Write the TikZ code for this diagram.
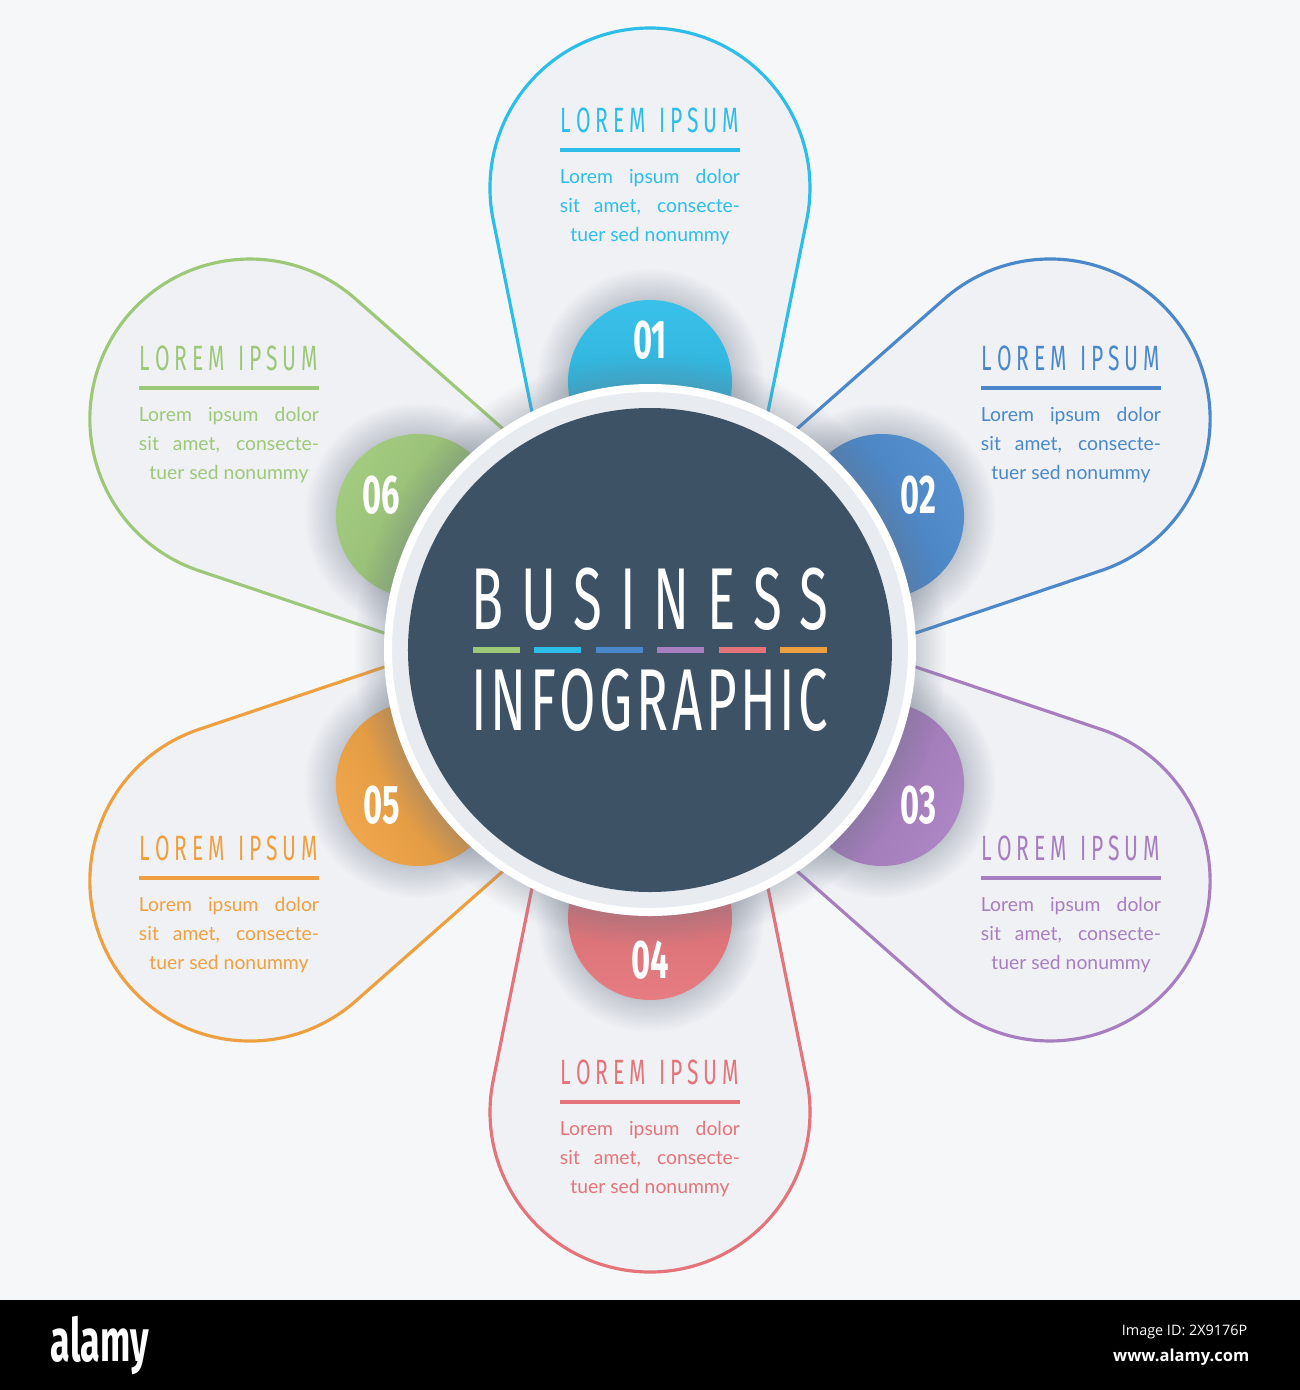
\documentclass[tikz,border=0pt]{standalone}
\usepackage{fontspec}
\setmainfont{Lato}
\newfontfamily\headfont[FakeStretch=0.6]{Fira Sans}
\newfontfamily\barfont{Open Sans}
\usetikzlibrary{fadings,positioning}

\definecolor{paper}{HTML}{F6F7F9}
\definecolor{petalfill}{HTML}{EFF1F5}
\definecolor{ringgray}{HTML}{E8EBF0}
\definecolor{hubdark}{HTML}{3E5266}
\definecolor{shadowgray}{HTML}{6E7888}
\definecolor{cone}{HTML}{2DBDE9}
\definecolor{ctwo}{HTML}{4A88CB}
\definecolor{cthree}{HTML}{A77EC0}
\definecolor{cfour}{HTML}{E5747A}
\definecolor{cfive}{HTML}{EEA040}
\definecolor{csix}{HTML}{9DC878}

% soft halos under the discs and the hub
\pgfdeclareradialshading{discglow}{\pgfpointorigin}{color(0bp)=(white); color(18bp)=(white); color(25bp)=(black); color(50bp)=(black)}
\pgfdeclarefading{discfade}{\pgfuseshading{discglow}}
\pgfdeclareradialshading{hubglow}{\pgfpointorigin}{color(0bp)=(white); color(22.5bp)=(white); color(25bp)=(black); color(50bp)=(black)}
\pgfdeclarefading{hubfade}{\pgfuseshading{hubglow}}

\begin{document}
\begin{tikzpicture}
	\tikzstyle{Petal}	= [line width=0.9pt, fill=petalfill]
	\tikzstyle{Disc}	= [circle, minimum size=1.64cm, inner sep=0pt]
	\tikzstyle{Num}		= [text=white, font=\headfont\bfseries\fontsize{15.5}{15.5}\selectfont, inner sep=0pt]
	\tikzstyle{Title}	= [font=\headfont\fontsize{10}{10}\selectfont, inner sep=0pt]
	\tikzstyle{Body}	= [font=\fontsize{5.5}{8.25}\selectfont, align=center, inner sep=0pt]
	\tikzstyle{Big}		= [text=white, font=\headfont\fontsize{25}{25}\selectfont, inner sep=0pt]

	% page and watermark bar
	\fill[paper] (-6.5,-6.5) rectangle (6.5,6.5);
	\fill[black] (-6.5,-7.4) rectangle (6.5,-6.5);
	\useasboundingbox (-6.5,-7.4) rectangle (6.5,6.5);
	\node[text=white, font=\headfont\bfseries\fontsize{17}{17}\selectfont, inner sep=0pt] (logo) at (-5.5,-6.95) {alamy};
	\node[text=white, font=\barfont\fontsize{4.1}{4.1}\selectfont, anchor=east, inner sep=0pt] (imgid) at (5.98,-6.82) {Image ID: 2X9176P};
	\node[text=white, font=\barfont\bfseries\fontsize{4.7}{4.7}\selectfont, anchor=east, inner sep=0pt] (site) at (6.0,-7.07) {www.alamy.com};

	% petals
	\foreach \ang/\col in {90/cone, 30/ctwo, -30/cthree, -90/cfour, -150/cfive, 150/csix}
		\draw[Petal, draw=\col, rotate=\ang] (0,-0.7) -- (4.304,-1.568) arc[start angle=-101.4, end angle=101.4, radius=1.6] -- (0,0.7) -- cycle;

	% numbered discs
	\foreach \i/\ang/\col in {1/90/cone, 2/30/ctwo, 3/-30/cthree, 4/-90/cfour, 5/-150/cfive, 6/150/csix} {
		\fill[shadowgray, opacity=0.35, path fading=discfade] (\ang:2.68) circle (1.14);
		\node[Disc, top color=\col!94!white, bottom color=\col!88!black, shading angle=\ang-90] (disc\i) at (\ang:2.68) {};
	}

	% hub
	\fill[shadowgray, opacity=0.3, path fading=hubfade] (0,0) circle (2.96);
	\node[circle, minimum size=5.24cm, inner sep=0pt, fill=ringgray, draw=white, line width=0.08cm] (hub) at (0,0) {};
	\node[circle, minimum size=4.84cm, inner sep=0pt, fill=hubdark] (core) at (0,0) {};

	\foreach \i/\ang in {1/90, 2/30, 3/-30, 4/-90, 5/-150, 6/150}
		\node[Num] (num\i) at (\ang:3.10) {0\i};

	% centre title
	\node[Big] (business) at (0,0.51) {\makebox[3.57cm]{B\hfill U\hfill S\hfill I\hfill N\hfill E\hfill S\hfill S}};
	\node[Big] (infographic) at (0,-0.50) {\makebox[3.57cm]{I\hfill N\hfill F\hfill O\hfill G\hfill R\hfill A\hfill P\hfill H\hfill I\hfill C}};
	\foreach \x/\col in {-1.535/csix, -0.921/cone, -0.307/ctwo, 0.307/cthree, 0.921/cfour, 1.535/cfive}
		\fill[\col] (\x-0.235,-0.03) rectangle (\x+0.235,0.03);

	% petal texts
	\foreach \i/\x/\y/\col in {1/0/5.30/cone, 2/4.21/2.92/ctwo, 3/4.21/-1.98/cthree, 4/0/-4.22/cfour, 5/-4.21/-1.98/cfive, 6/-4.21/2.92/csix} {
		\node[Title, text=\col] (title\i) at (\x,\y) {\makebox[1.78cm]{L\hfill O\hfill R\hfill E\hfill M\hfill\hfill\hfill I\hfill P\hfill S\hfill U\hfill M}};
		\draw[\col, line width=1.1pt] (\x-0.9,\y-0.30) -- (\x+0.9,\y-0.30);
		\node[Body, text=\col] (body\i) at (\x,\y-0.87) {\makebox[1.8cm][s]{Lorem ipsum dolor}\\ \makebox[1.8cm][s]{sit amet, consecte-}\\ tuer sed nonummy};
	}
\end{tikzpicture}
\end{document}
